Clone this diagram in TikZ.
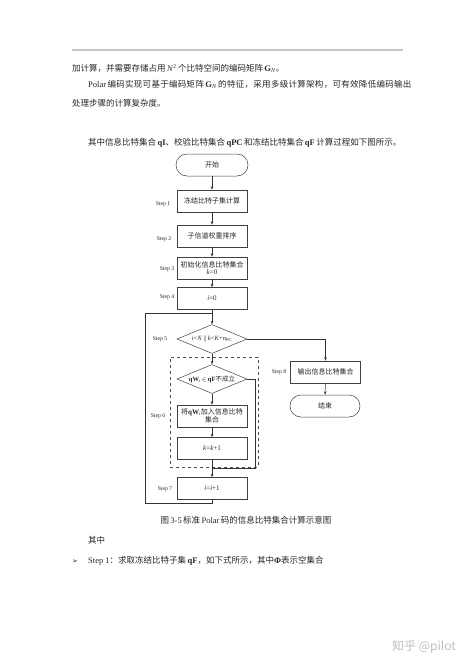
\documentclass[tikz,border=0pt]{standalone}
\usepackage{fontspec}
\setmainfont{Liberation Serif}
\newfontfamily\cjk{Noto Sans CJK SC}
\newfontfamily\cjkls[LetterSpace=3.5]{Noto Sans CJK SC}
\newfontfamily\dejavu{DejaVu Sans}
\usetikzlibrary{shapes.geometric,arrows.meta}
\begin{document}
\begin{tikzpicture}[x=1pt,y=-1pt,
  body/.style={anchor=base west, inner sep=0, font=\fontsize{8.5}{10}\selectfont, text=black!85},
  box/.style={draw=black!75, line width=0.5pt, minimum width=70pt, minimum height=22pt, inner sep=1pt, font=\fontsize{7}{8.5}\selectfont, align=center, text=black!85},
  term/.style={box, rounded corners=11pt, minimum width=72pt},
  dia/.style={draw=black!75, line width=0.5pt, diamond, minimum width=70pt, minimum height=29pt, inner sep=0},
  dtext/.style={font=\fontsize{6.5}{8}\selectfont, inner sep=0, text=black!85},
  steplab/.style={font=\fontsize{5.7}{6}\selectfont, inner sep=0, text=black!85},
  arr/.style={-{Stealth[length=3.5pt,width=2.6pt]}, line width=0.5pt, draw=black!80},
  conn/.style={line width=0.5pt, draw=black!80}]
\useasboundingbox (0,0) rectangle (474,670);
\fill[white] (0,0) rectangle (474,670);
% top rule
\draw[gray!45, line width=1.6pt] (72,50) -- (403,50);
% body text
\node[body] (t1) at (72,71) {{\cjk 加计算，并需要存储占用}\,\textit{N}\textsuperscript{2}\,{\cjk 个比特空间的编码矩阵}\,\textbf{G}\textsubscript{\textit{N}}{\cjk 。}};
\node[body] (t2) at (88,87.5) {Polar\,{\cjkls 编码实现可基于编码矩阵}\,\textbf{G}\textsubscript{\textit{N}}\,{\cjkls 的特征，采用多级计算架构，可有效降低编码输出}};
\node[body] (t3) at (72,106) {{\cjk 处理步骤的计算复杂度。}};
\node[body] (t4) at (88,145) {{\cjk 其中信息比特集合}\,\textbf{qI}{\cjk 、校验比特集合}\,\textbf{qPC}\,{\cjk 和冻结比特集合}\,\textbf{qF}\,{\cjk 计算过程如下图所示。}};
% flowchart
\node[term] (start) at (212,165) {\cjk 开始};
\node[box] (s1) at (212,201) {\cjk 冻结比特子集计算};
\node[box] (s2) at (212,236) {\cjk 子信道权重排序};
\node[box] (s3) at (212,268) {{\cjk 初始化信息比特集合}\\[-1pt]\textit{k}=0};
\node[box] (s4) at (212,298.5) {\textit{i}=0};
\node[dia, label={[dtext]center:\textit{i}<\textit{N} || \textit{k}<\textit{K}+\textit{n}\textsubscript{PC}}] (d5) at (212,339) {};
\node[draw=black!70, dashed, line width=0.6pt, minimum width=88pt, minimum height=110pt, inner sep=0] (grp) at (214,412) {};
\node[dia, label={[dtext]center:\textbf{qW}\textsubscript{\textit{i}}\,$\in$\,\textbf{qF}{\cjk 不成立}}] (d6) at (212,379) {};
\node[box] (s6) at (212,416) {{\cjk 将}\textbf{qW}\textsubscript{\textit{i}}{\cjk 加入信息比特}\\[-1pt]{\cjk 集合}};
\node[box] (kk) at (212,448.5) {\textit{k}=\textit{k}+1};
\node[box] (s7) at (212,488.5) {\textit{i}=\textit{i}+1};
\node[box] (s8) at (325.5,372) {\cjk 输出信息比特集合};
\node[term, minimum width=70pt] (end) at (325,406) {\cjk 结束};
% step labels
\node[steplab] (l1) at (163,204) {Step 1};
\node[steplab] (l2) at (164,239) {Step 2};
\node[steplab] (l3) at (167,269) {Step 3};
\node[steplab] (l4) at (167,297) {Step 4};
\node[steplab] (l5) at (160,339) {Step 5};
\node[steplab] (l6) at (158,416) {Step 6};
\node[steplab] (l7) at (165,489) {Step 7};
\node[steplab] (l8) at (279,372) {Step 8};
% coordinates
\coordinate (lb) at (145,503);
\coordinate (lt) at (145,313);
\coordinate (j1) at (212,313);
\coordinate (rc1) at (255,379);
\coordinate (rc2) at (255,468);
\coordinate (j2) at (212,468);
% connectors
\draw[arr] (start) -- (s1);
\draw[arr] (s1) -- (s2);
\draw[arr] (s2) -- (s3);
\draw[arr] (s3) -- (s4);
\draw[arr] (s4.south) -- (d5.north);
\draw[conn] (s7.south) |- (lb) -- (lt) -- (j1);
\draw[arr] (d5.east) -| (s8.north);
\draw[arr] (s8) -- (end);
\draw[arr] (d5.south) -- (d6.north);
\draw[arr] (d6.south) -- (s6.north);
\draw[arr] (s6) -- (kk);
\draw[arr] (kk) -- (s7);
\draw[conn] (d6.east) -- (rc1) -- (rc2) -- (j2);
% caption and following text
\node[body, anchor=base] (cap) at (246,523) {{\cjk 图}\,3-5\,{\cjk 标准}\,Polar\,{\cjk 码的信息比特集合计算示意图}};
\node[body] (t5) at (88,543) {{\cjk 其中}};
\node[body] (bul) at (72,563) {{\dejavu\fontsize{7}{8}\selectfont ➢}};
\node[body] (t6) at (88,563) {Step 1{\cjk ：求取冻结比特子集}\,\textbf{qF}{\cjk ，如下式所示，其中}\textbf{Φ}{\cjk 表示空集合}};
% watermark
\node[inner sep=0, text=gray!50, font=\cjk\fontsize{12}{14}\selectfont] (wm) at (424,647) {知乎 @pilot};
\end{tikzpicture}
\end{document}
